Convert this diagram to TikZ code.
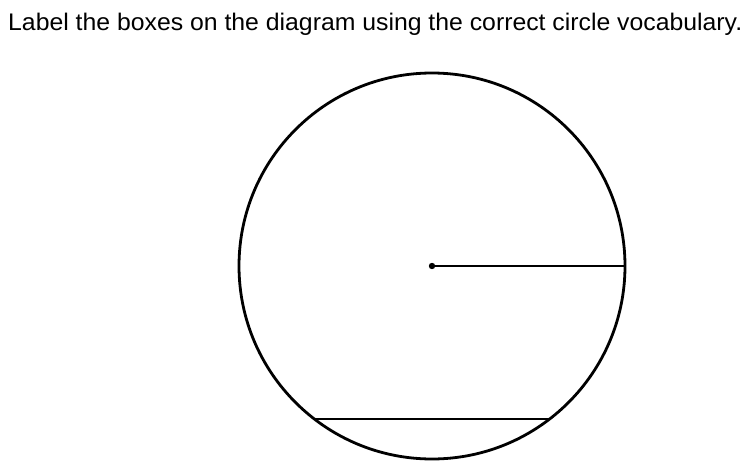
\documentclass[tikz,border=0pt]{standalone}
\usepackage{fontspec}
\setmainfont{Liberation Sans}
\usetikzlibrary{calc}
\begin{document}
\begin{tikzpicture}[x=1pt,y=-1pt,
  edge/.style={line width=2.8pt},
  rim/.style={circle,draw,line width=2.8pt,minimum size=386pt,inner sep=0pt,outer sep=0pt}]
\useasboundingbox (0,0) rectangle (749,465);
\node[anchor=base west,inner sep=0pt,font=\fontsize{24}{28}\selectfont,xscale=1.033] (title) at (8,30.5) {Label the boxes on the diagram using the correct circle vocabulary.};
\node[rim] (c) at (432,266) {};
\coordinate (o) at (432,266);
\coordinate (cl) at ($(o)+(-118,153)$);
\coordinate (cr) at ($(o)+(118,153)$);
\fill (o) circle (3.2pt);
\draw[edge] (o) -- (c.east);
\draw[edge] (cl) -- (cr);
\end{tikzpicture}
\end{document}
